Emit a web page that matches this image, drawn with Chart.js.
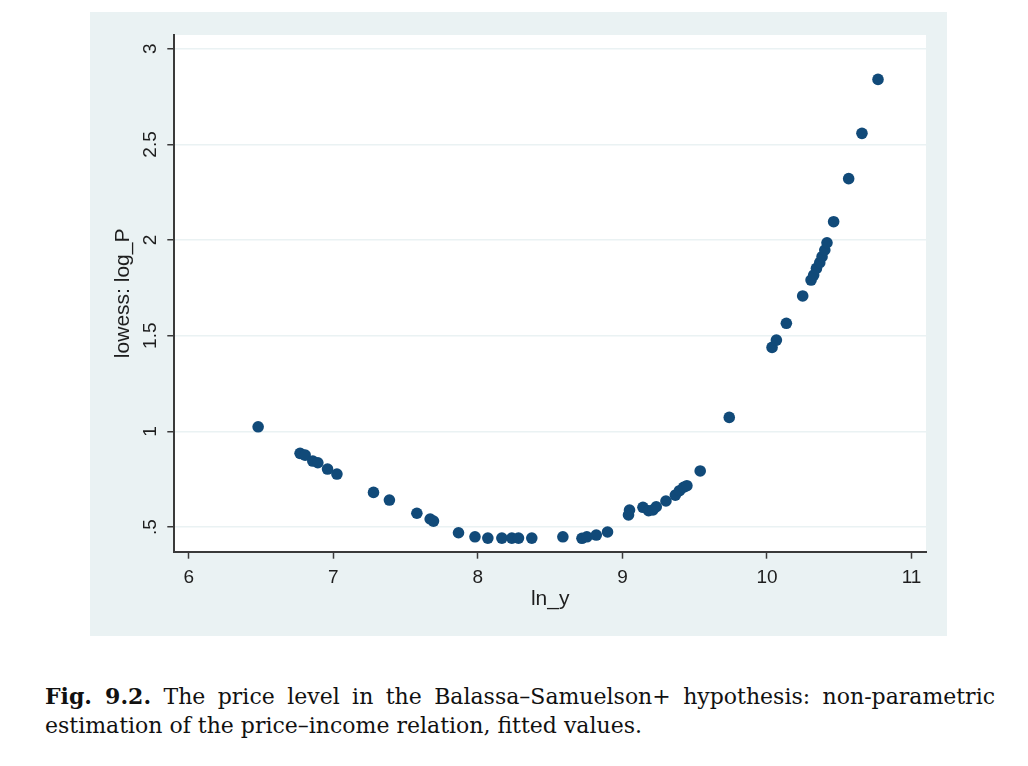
<!DOCTYPE html>
<html>
<head>
<meta charset="utf-8">
<script src="https://cdn.jsdelivr.net/npm/chart.js@4.4.1/dist/chart.umd.min.js"></script>
<style>
  body { margin: 0; background: #fff; width: 1028px; height: 766px; position: relative; }
  #box { position: absolute; left: 90px; top: 12px; width: 857px; height: 624px; }
  .cap { position: absolute; left: 45px; width: 950px; font-family: "DejaVu Serif", serif; font-size: 22px; line-height: 26px; color: #111; }
  #cap1 { top: 683px; text-align: justify; text-align-last: justify; }
  #cap2 { top: 713px; }
</style>
</head>
<body>
<div id="box"><canvas id="lowessChart" width="857" height="624"></canvas></div>
<div class="cap" id="cap1"><b>Fig. 9.2.</b> The price level in the Balassa–Samuelson+ hypothesis: non-parametric</div>
<div class="cap" id="cap2">estimation of the price–income relation, fitted values.</div>
<script>
// values
const lnY = [6.48, 6.77, 6.805, 6.858, 6.893, 6.96, 7.025, 7.278, 7.388, 7.578, 7.67, 7.693,
    7.866, 7.98, 8.069, 8.166, 8.235, 8.281, 8.373, 8.588, 8.72, 8.754, 8.819, 8.897,
    9.042, 9.049, 9.142, 9.181, 9.211, 9.234, 9.301, 9.366, 9.395, 9.423, 9.446, 9.538,
    9.739, 10.035, 10.065, 10.134, 10.247, 10.305, 10.323, 10.342, 10.365, 10.381, 10.40,
    10.415, 10.461, 10.565, 10.657, 10.768];
const lowessP = [1.024, 0.885, 0.876, 0.845, 0.836, 0.803, 0.777, 0.681, 0.641, 0.572, 0.542, 0.531,
    0.470, 0.449, 0.442, 0.442, 0.442, 0.442, 0.442, 0.449, 0.441, 0.449, 0.458, 0.474,
    0.563, 0.589, 0.603, 0.585, 0.589, 0.606, 0.636, 0.667, 0.690, 0.708, 0.716, 0.793,
    1.073, 1.439, 1.477, 1.565, 1.708, 1.791, 1.817, 1.852, 1.882, 1.913, 1.948,
    1.986, 2.096, 2.321, 2.558, 2.840];
const xTicks = [6, 7, 8, 9, 10, 11];
const yTicks = [0.5, 1, 1.5, 2, 2.5, 3];
const yTickLabels = ['.5', '1', '1.5', '2', '2.5', '3'];

const panelColor = '#eaf2f3';
const navy = '#114a79';
const axisColor = '#3a3a3a';
const sans = '"Liberation Sans", Arial, Helvetica, sans-serif';

// grey panel behind, white plot region
const panelBg = {
    id: 'panelBg',
    beforeDraw(chart) {
        const { ctx, chartArea: a } = chart;
        ctx.save();
        ctx.fillStyle = panelColor;
        ctx.fillRect(0, 0, chart.width, chart.height);
        ctx.fillStyle = '#fff';
        ctx.fillRect(a.left, a.top, a.right - a.left, a.bottom - a.top);
        ctx.restore();
    }
};

const canvas = document.getElementById('lowessChart');
const chart = new Chart(canvas.getContext('2d'), {
    type: 'scatter',
    data: {
        datasets: [{
            label: 'lowess: log_P',
            data: lnY.map((x, i) => ({ x: x, y: lowessP[i] })),
            backgroundColor: navy,
            borderWidth: 0,
            pointRadius: 5.8,
            pointHoverRadius: 5.8
        }]
    },
    plugins: [panelBg],
    options: {
        responsive: false,
        animation: false,
        layout: { padding: { top: 23, right: 21, left: 0, bottom: 0 } },
        plugins: {
            legend: { display: false },
            tooltip: { enabled: false }
        },
        scales: {
            x: {
                type: 'linear',
                min: 5.9,
                max: 11.1,
                afterBuildTicks: (s) => { s.ticks = xTicks.map(v => ({ value: v })); },
                afterFit: (s) => { s.height = 84.3; },
                border: { color: axisColor, width: 2 },
                grid: { drawOnChartArea: false, tickColor: axisColor, tickLength: 7, tickWidth: 1.5 },
                ticks: {
                    color: '#1e1e1e',
                    font: { family: sans, size: 19 },
                    padding: 8,
                    maxRotation: 0,
                    autoSkip: false,
                    callback: (v) => String(v)
                },
                title: {
                    display: true,
                    text: 'ln_y',
                    color: '#1e1e1e',
                    font: { family: sans, size: 21 },
                    padding: { top: 0, bottom: 24 }
                }
            },
            y: {
                type: 'linear',
                min: 0.371,
                max: 3.072,
                afterBuildTicks: (s) => { s.ticks = yTicks.map(v => ({ value: v })); },
                afterFit: (s) => { s.width = 84.3; },
                border: { color: axisColor, width: 2 },
                grid: { color: panelColor, lineWidth: 1.5, tickColor: axisColor, tickLength: 7, tickWidth: 1.5 },
                ticks: {
                    color: '#1e1e1e',
                    font: { family: sans, size: 19 },
                    padding: 3,
                    minRotation: 90,
                    maxRotation: 90,
                    crossAlign: 'center',
                    autoSkip: false,
                    callback: (v) => yTickLabels[yTicks.indexOf(v)]
                },
                title: {
                    display: true,
                    text: 'lowess: log_P',
                    color: '#1e1e1e',
                    font: { family: sans, size: 21 },
                    padding: { top: 21, bottom: 0 }
                }
            }
        }
    }
});
</script>
</body>
</html>
